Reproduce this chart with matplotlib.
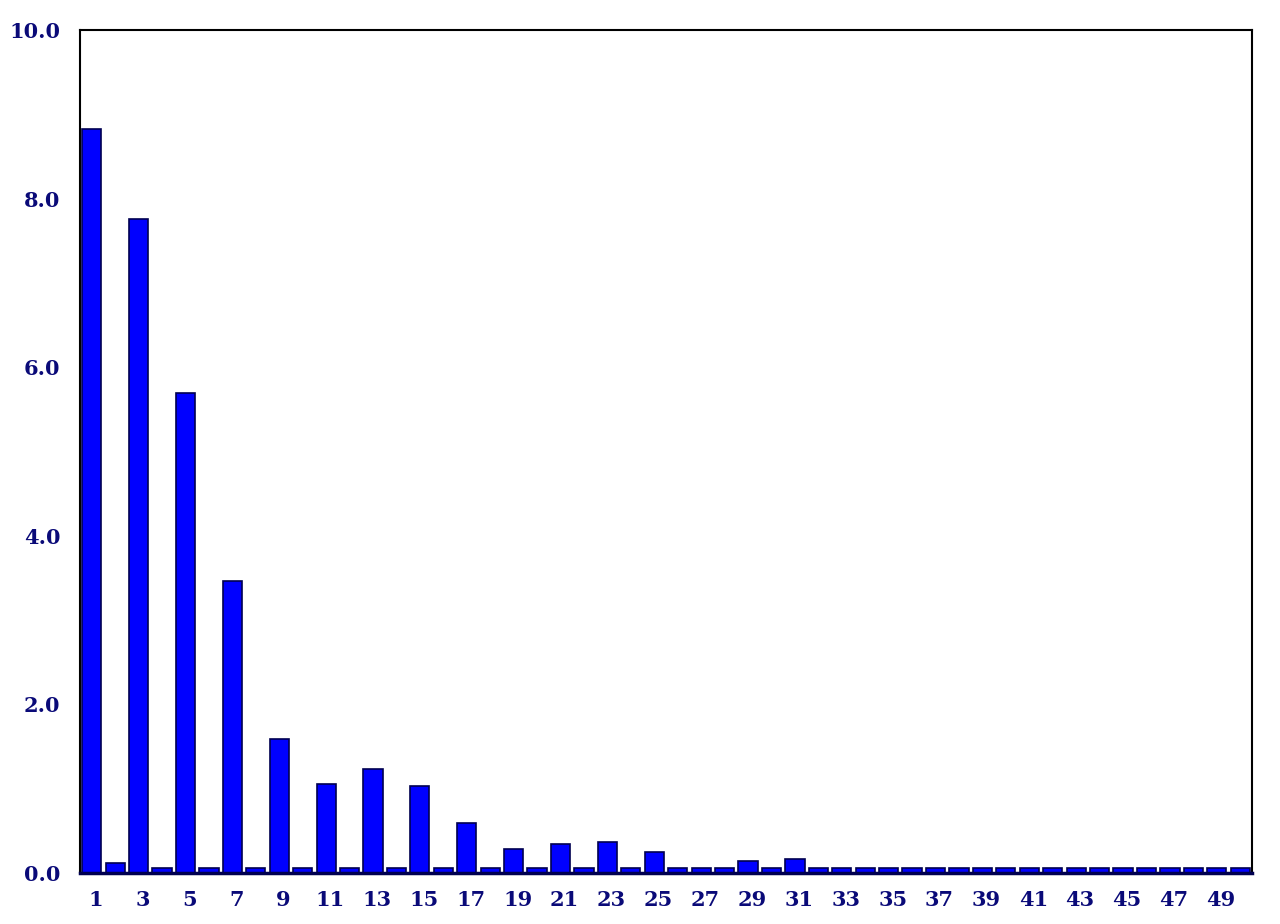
import matplotlib
matplotlib.use("Agg")
import matplotlib.pyplot as plt
import matplotlib.transforms as mtransforms

categories = list(range(1, 51))
values = [8.82, 0.12, 7.76, 0.06, 5.70, 0.06, 3.46, 0.06, 1.59, 0.06,
          1.06, 0.06, 1.23, 0.06, 1.03, 0.06, 0.59, 0.06, 0.28, 0.06,
          0.34, 0.06, 0.37, 0.06, 0.25, 0.06, 0.06, 0.06, 0.14, 0.06,
          0.17, 0.06, 0.06, 0.06, 0.06, 0.06, 0.06, 0.06, 0.06, 0.06,
          0.06, 0.06, 0.06, 0.06, 0.06, 0.06, 0.06, 0.06, 0.06, 0.06]
xtick_labels = [str(i) for i in range(1, 51, 2)]
ytick_values = [0, 2, 4, 6, 8, 10]

label_color = "#0a0a78"
font = dict(family=["DejaVu Serif"], weight="bold", size=15, color=label_color)

fig = plt.figure(figsize=(12.8, 9.24), dpi=100)
ax = fig.add_axes([0.0625, 0.0552, 0.9156, 0.9123])

ax.bar(categories, values, width=0.82, color="#0000ff", edgecolor="#000050", linewidth=1.2, zorder=2)

ax.set_xlim(0.5, 50.5)
ax.set_ylim(0, 10)

ax.set_yticks(ytick_values)
ax.set_yticklabels([f"{v:.1f}" for v in ytick_values], **font)
ax.set_xticks(list(range(1, 51, 2)))
ax.set_xticklabels(xtick_labels, **font)

ax.tick_params(axis="both", length=0)
ax.tick_params(axis="y", pad=14)
ax.tick_params(axis="x", pad=12)

offset = mtransforms.ScaledTranslation(4 / 100, 0, fig.dpi_scale_trans)
for lbl in ax.get_xticklabels():
    lbl.set_transform(lbl.get_transform() + offset)

for side in ["top", "right", "left"]:
    ax.spines[side].set_color("black")
    ax.spines[side].set_linewidth(1.5)
ax.spines["bottom"].set_color("#000050")
ax.spines["bottom"].set_linewidth(2.5)

fig.savefig("out.png", dpi=100, facecolor="white")
